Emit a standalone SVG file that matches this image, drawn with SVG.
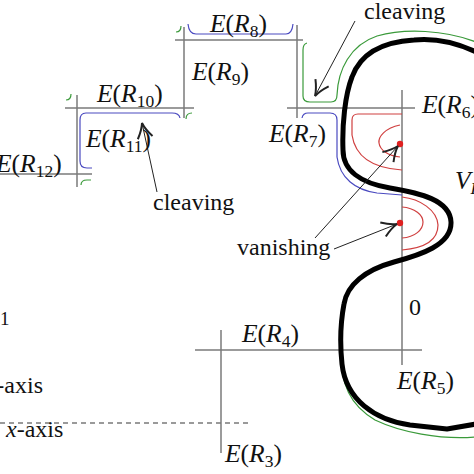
<svg xmlns="http://www.w3.org/2000/svg" width="474" height="474" viewBox="0 0 474 474">
<defs>
<style>
text{font-family:"Liberation Serif","DejaVu Serif",serif;font-size:24px;fill:#111}
.lb{font-size:25.5px}
.it{font-style:italic}
.sub{font-size:17.5px}
.ax{stroke:#7a7a7a;stroke-width:1.5;fill:none}
.g{stroke:#3a9a3a;stroke-width:1.2;fill:none}
.b{stroke:#4a4ac0;stroke-width:1.2;fill:none}
.r{stroke:#d04040;stroke-width:1.2;fill:none}
.arr{stroke:#222;stroke-width:1;fill:none;marker-end:url(#ah)}
</style>
<marker id="ah" markerUnits="userSpaceOnUse" markerWidth="20" markerHeight="20" viewBox="-10 -6 12 12" refX="0" refY="0" orient="auto">
<path d="M-9,-4.5 Q-4,-1 0,0 Q-4,1 -9,4.5" stroke="#222" stroke-width="1.2" fill="none"/>
</marker>
</defs>
<rect width="474" height="474" fill="#fff"/>
<g id="axes">
<line class="ax" x1="0" y1="174" x2="92" y2="174"/>
<line class="ax" x1="77" y1="95" x2="77" y2="187"/>
<line class="ax" x1="65" y1="108" x2="194" y2="108"/>
<line class="ax" x1="184" y1="27" x2="184" y2="118"/>
<line class="ax" x1="175" y1="40" x2="303" y2="40"/>
<line class="ax" x1="297" y1="25" x2="297" y2="118"/>
<line class="ax" x1="287" y1="108" x2="415" y2="108"/>
<line class="ax" x1="402" y1="90" x2="402" y2="365"/>
<line class="ax" x1="195" y1="350" x2="422" y2="350"/>
<line class="ax" x1="221" y1="330" x2="221" y2="453"/>
<line class="ax" x1="0" y1="423" x2="252" y2="423" stroke-dasharray="5,4"/>
</g>
<g id="green">
<path class="g" d="M71,94 Q71,100 66,100"/>
<path class="g" d="M181,26 Q181,32 176,32"/>
<path class="g" d="M81,185 Q81,180 87,180 L91,180"/>
<path class="g" d="M186,119 Q186,113 192,113"/>
<path class="g" d="M307,43 Q303,44 303,50 L303,96 Q303,102 310,102 L331,102 Q337,102 337,95 C338,70 350,45 377,36 C405,28 445,30 476,42"/>
<path class="g" d="M340,350 C341,385 350,405 375,420 C400,432 440,440 476,437"/>
</g>
<g id="blue">
<path class="b" d="M188,24 Q189,34 196,34 L286,34 Q292,34 293,24"/>
<path class="b" d="M180,118 Q179,113 172,113 L86,113 Q80,113 80,120 L80,161 Q80,168 87,168 L92,168"/>
<path class="b" d="M302,118 Q303,113 308,113 L330,113 Q337,113 337,120 L337,157 C340,178 355,190 377,193 L402,195"/>
</g>
<g id="red">
<path class="r" d="M402,114 L358,114 Q352,114 352,120 L352,135 C355,155 370,168 402,170"/>
<path class="r" d="M400,125 C385,128 378,137 379,143 C380,150 388,156 400,157"/>
<path class="r" d="M402,197 C420,199 437,210 438,225 C438,240 425,248 402,250"/>
<path class="r" d="M402,207 C415,208 423,215 423,222 C423,230 415,237 402,238"/>
<circle cx="400" cy="144" r="3.2" fill="#e02020"/>
<circle cx="400" cy="223" r="3.2" fill="#e02020"/>
</g>
<g id="boundary">
<path d="M476,52 C455,42 435,38 414,40 C380,42 360,55 352,77 C345,95 342,125 343,150 C343,170 360,183 390,188 C420,193 450,200 451,222 C452,245 420,255 394,262 C365,270 347,285 344,304 C340,325 340,345 342,364 C346,400 375,420 410,425 L447,429 L476,424" stroke="#000" stroke-width="5" fill="none" stroke-linejoin="round"/>
</g>
<g id="connectors">
<line class="arr" x1="157" y1="192" x2="142" y2="123"/>
<line class="arr" x1="355" y1="21" x2="315" y2="96"/>
<line class="arr" x1="315" y1="238" x2="398" y2="146"/>
<line class="arr" x1="334" y1="249" x2="397" y2="224"/>
</g>
<g id="labels">
<text class="lb" x="-4" y="172"><tspan class="it">E</tspan>(<tspan class="it">R</tspan><tspan class="sub" dy="5">12</tspan><tspan dy="-5">)</tspan></text>
<text class="lb" x="97" y="102"><tspan class="it">E</tspan>(<tspan class="it">R</tspan><tspan class="sub" dy="5">10</tspan><tspan dy="-5">)</tspan></text>
<text class="lb" x="86" y="147"><tspan class="it">E</tspan>(<tspan class="it">R</tspan><tspan class="sub" dy="5">11</tspan><tspan dy="-5">)</tspan></text>
<text class="lb" x="210" y="32"><tspan class="it">E</tspan>(<tspan class="it">R</tspan><tspan class="sub" dy="5">8</tspan><tspan dy="-5">)</tspan></text>
<text class="lb" x="192" y="80"><tspan class="it">E</tspan>(<tspan class="it">R</tspan><tspan class="sub" dy="5">9</tspan><tspan dy="-5">)</tspan></text>
<text class="lb" x="269" y="142"><tspan class="it">E</tspan>(<tspan class="it">R</tspan><tspan class="sub" dy="5">7</tspan><tspan dy="-5">)</tspan></text>
<text class="lb" x="422" y="113"><tspan class="it">E</tspan>(<tspan class="it">R</tspan><tspan class="sub" dy="5">6</tspan><tspan dy="-5">)</tspan></text>
<text class="lb" x="242" y="342"><tspan class="it">E</tspan>(<tspan class="it">R</tspan><tspan class="sub" dy="5">4</tspan><tspan dy="-5">)</tspan></text>
<text class="lb" x="397" y="389"><tspan class="it">E</tspan>(<tspan class="it">R</tspan><tspan class="sub" dy="5">5</tspan><tspan dy="-5">)</tspan></text>
<text class="lb" x="225" y="462"><tspan class="it">E</tspan>(<tspan class="it">R</tspan><tspan class="sub" dy="5">3</tspan><tspan dy="-5">)</tspan></text>
<text x="153" y="210">cleaving</text>
<text x="364" y="19">cleaving</text>
<text x="237" y="255">vanishing</text>
<text x="409" y="315">0</text>
<text class="lb" x="455" y="189"><tspan class="it">V</tspan><tspan class="sub it" dy="5">F</tspan></text>
<text x="0" y="325" style="font-size:19px">1</text>
<text x="43" y="393" text-anchor="end"><tspan class="it">y</tspan>-axis</text>
<text x="6" y="437"><tspan class="it">x</tspan>-axis</text>
</g>
</svg>
